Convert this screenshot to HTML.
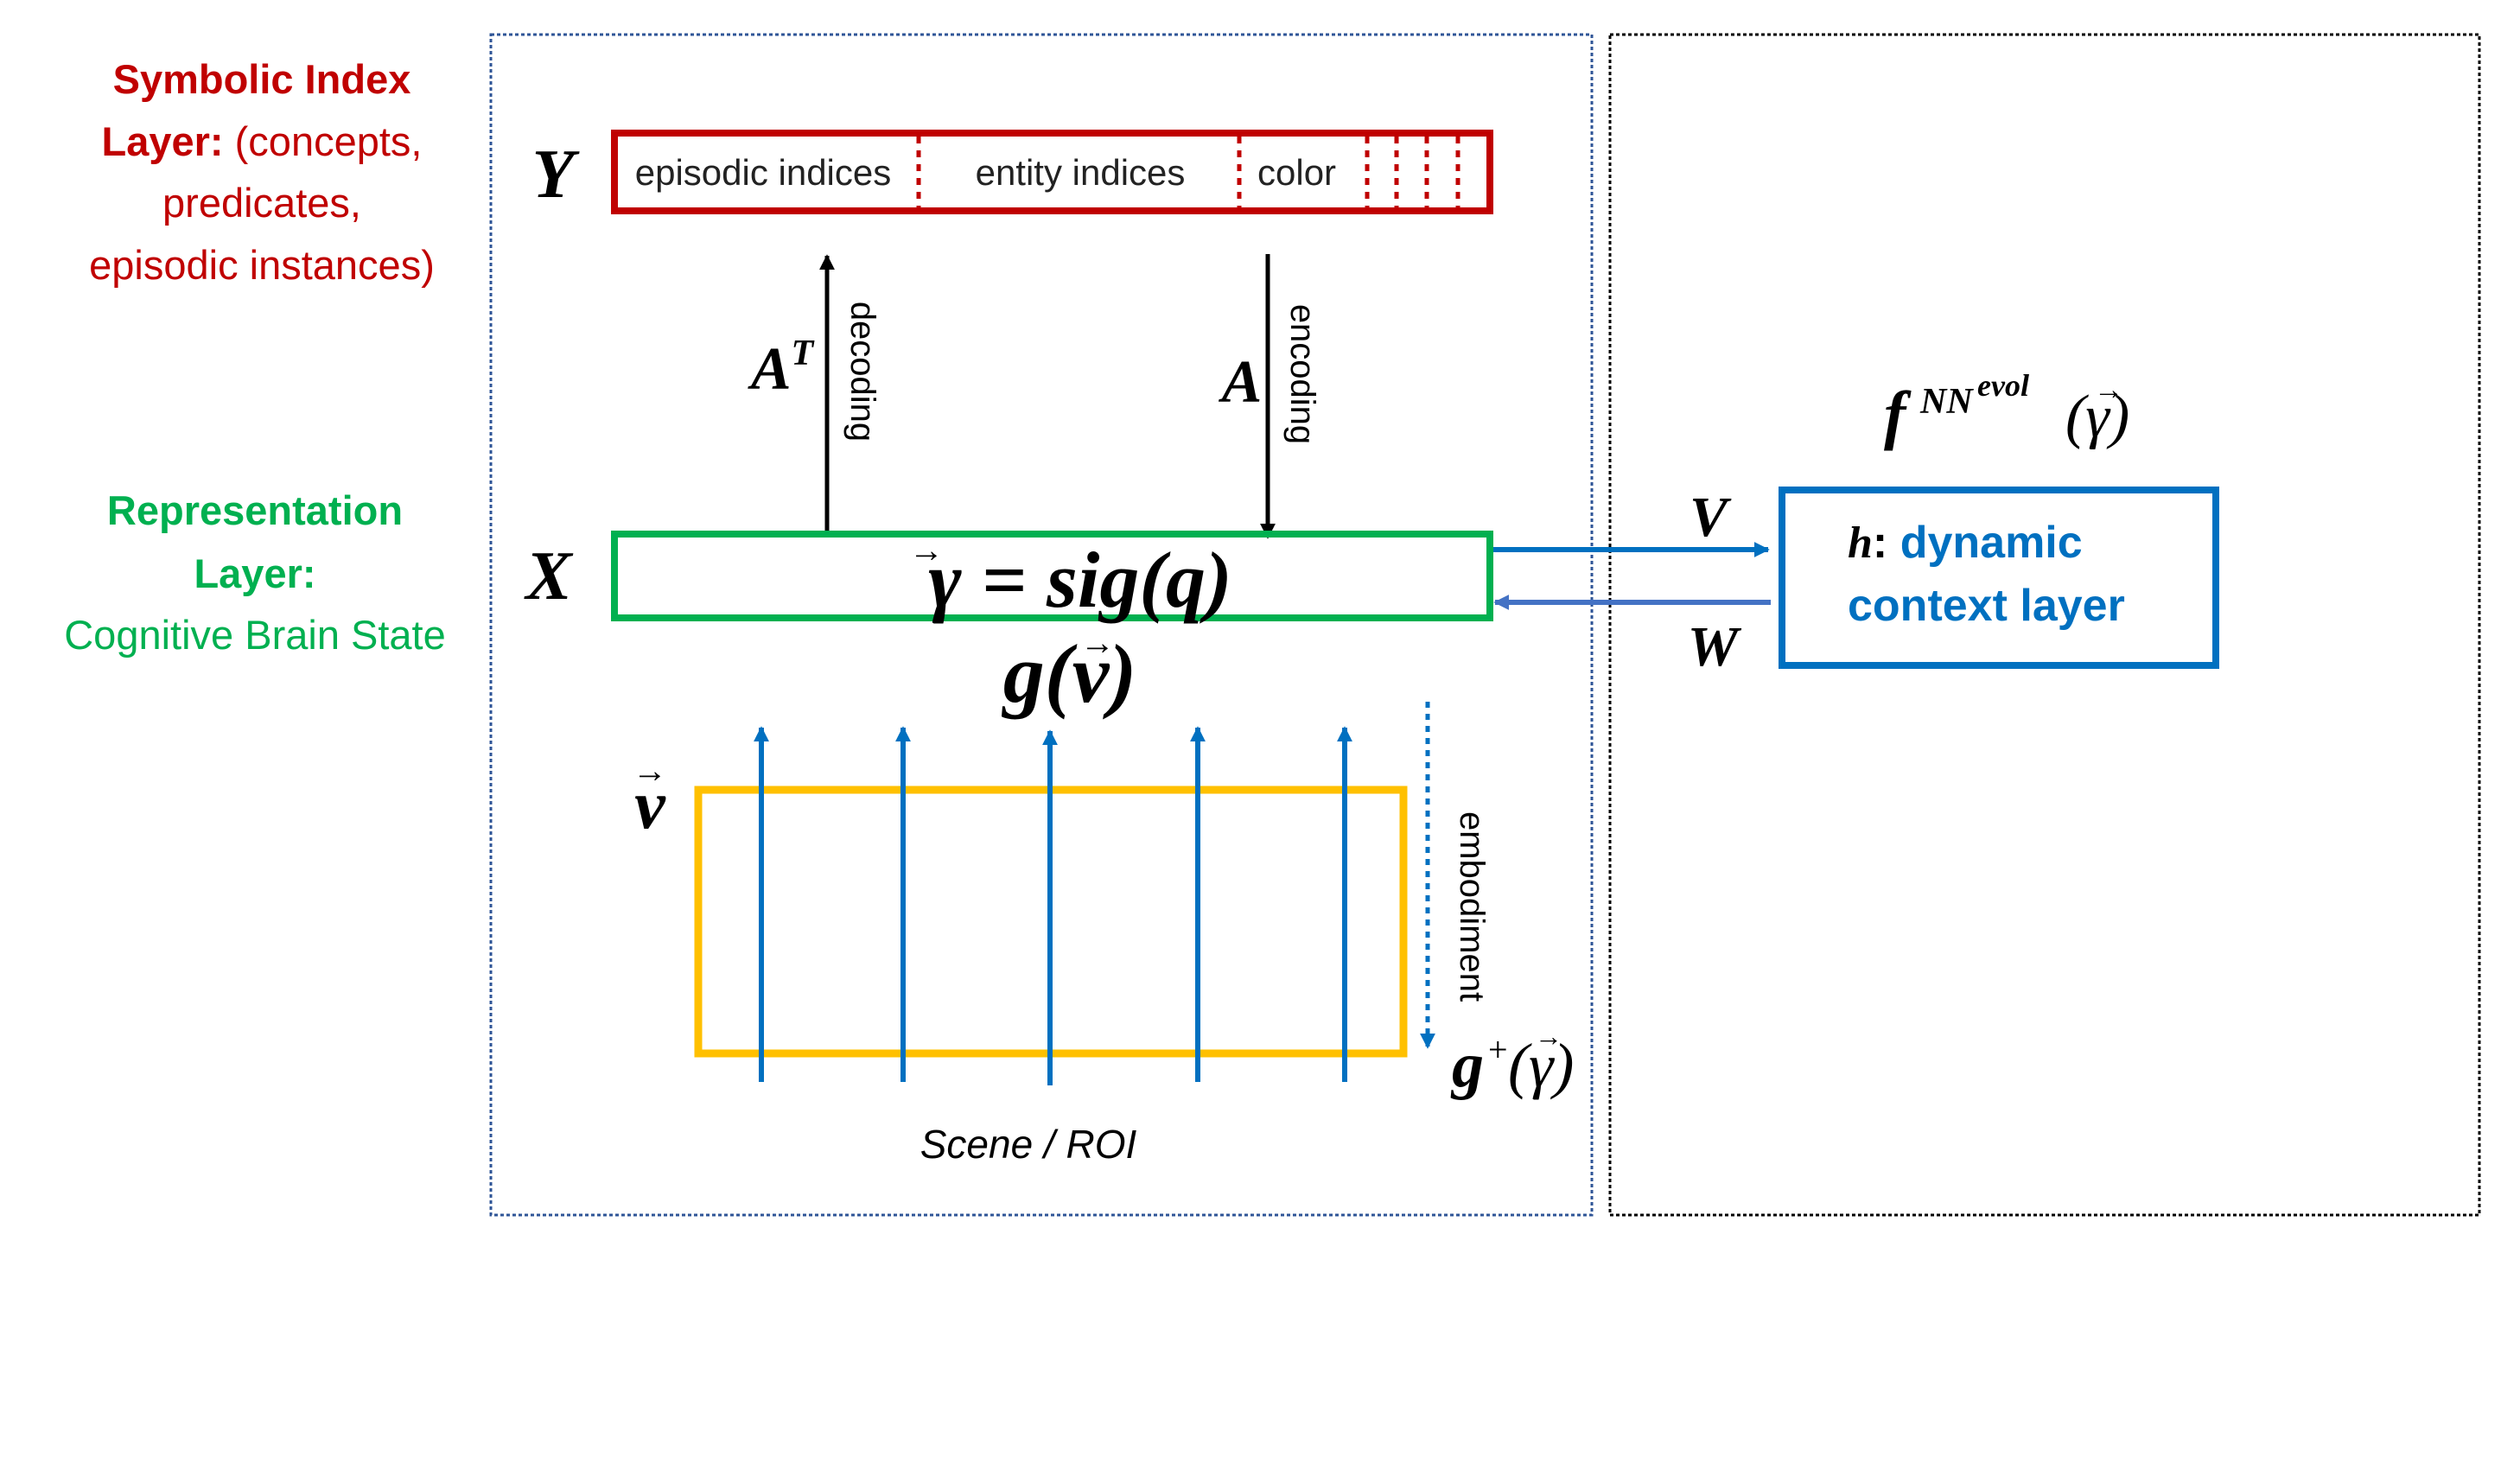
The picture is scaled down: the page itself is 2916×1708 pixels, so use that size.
<!DOCTYPE html>
<html><head><meta charset="utf-8"><style>
html,body{margin:0;padding:0;background:#fff}
svg{display:block}
.s{font-family:"Liberation Sans",sans-serif}
.m{font-family:"Liberation Serif",serif;font-style:italic;font-weight:bold}
</style></head><body>
<svg width="2916" height="1708" viewBox="0 0 2916 1708" xmlns="http://www.w3.org/2000/svg">
<defs>
<marker id="ak" viewBox="0 0 10 10" refX="9" refY="5" markerWidth="18" markerHeight="20" orient="auto" markerUnits="userSpaceOnUse"><path d="M0,0L10,5L0,10z" fill="#000"/></marker>
<marker id="ab" viewBox="0 0 10 10" refX="9" refY="5" markerWidth="18" markerHeight="18" orient="auto" markerUnits="userSpaceOnUse"><path d="M0,0L10,5L0,10z" fill="#0070c0"/></marker>
<marker id="ab2" viewBox="0 0 10 10" refX="9" refY="5" markerWidth="18" markerHeight="18" orient="auto" markerUnits="userSpaceOnUse"><path d="M0,0L10,5L0,10z" fill="#4472c4"/></marker>
</defs>
<rect x="568" y="40" width="1274" height="1366" fill="none" stroke="#2f5597" stroke-width="3" stroke-dasharray="4,3"/>
<rect x="1863" y="40" width="1006" height="1366" fill="none" stroke="#000" stroke-width="3" stroke-dasharray="4,3"/>

<g class="s" font-size="47" text-anchor="middle" fill="#c00000">
<text x="303" y="108" font-weight="bold">Symbolic Index</text>
<text x="303" y="180"><tspan font-weight="bold">Layer:</tspan> (concepts,</text>
<text x="303" y="251">predicates,</text>
<text x="303" y="323">episodic instances)</text>
</g>
<g class="s" font-size="47" text-anchor="middle" fill="#00b050">
<text x="295" y="607" font-weight="bold">Representation</text>
<text x="295" y="680" font-weight="bold">Layer:</text>
<text x="295" y="751">Cognitive Brain State</text>
</g>

<text x="640" y="228" class="m" font-size="80" text-anchor="middle">Y</text>
<rect x="711" y="154" width="1013" height="90" fill="none" stroke="#c00000" stroke-width="8"/>
<g stroke="#c00000" stroke-width="5" stroke-dasharray="8,8">
<line x1="1063" y1="158" x2="1063" y2="240"/><line x1="1434" y1="158" x2="1434" y2="240"/>
<line x1="1582" y1="158" x2="1582" y2="240"/><line x1="1616" y1="158" x2="1616" y2="240"/>
<line x1="1651" y1="158" x2="1651" y2="240"/><line x1="1687" y1="158" x2="1687" y2="240"/>
</g>
<g class="s" font-size="42" fill="#222">
<text x="883" y="214" text-anchor="middle">episodic indices</text>
<text x="1250" y="214" text-anchor="middle">entity indices</text>
<text x="1455" y="214">color</text>
</g>

<line x1="957" y1="622" x2="957" y2="296" stroke="#000" stroke-width="5" marker-end="url(#ak)"/>
<line x1="1467" y1="294" x2="1467" y2="622" stroke="#000" stroke-width="5" marker-end="url(#ak)"/>
<text x="905" y="450" class="m" font-size="70" text-anchor="middle">A<tspan font-size="42" dy="-28">T</tspan></text>
<text x="1437" y="465" class="m" font-size="70" text-anchor="middle">A</text>
<text class="s" font-size="40" transform="translate(985,430) rotate(90)" text-anchor="middle">decoding</text>
<text class="s" font-size="40" transform="translate(1494,433) rotate(90)" text-anchor="middle">encoding</text>

<text x="635" y="693" class="m" font-size="80" text-anchor="middle">X</text>
<rect x="711" y="618" width="1013" height="97" fill="none" stroke="#00b050" stroke-width="8"/>
<text x="1250" y="702" class="m" font-size="92" text-anchor="middle">γ = sig(q)</text>
<text x="1072" y="650" font-size="40" font-family="Liberation Serif" text-anchor="middle">→</text>
<text x="1238" y="812" class="m" font-size="96" text-anchor="middle">g(v)</text>
<text x="1270" y="757" font-size="40" font-family="Liberation Serif" text-anchor="middle">→</text>

<line x1="1728" y1="636" x2="2046" y2="636" stroke="#0070c0" stroke-width="6" marker-end="url(#ab)"/>
<line x1="2049" y1="697" x2="1730" y2="697" stroke="#4472c4" stroke-width="6" marker-end="url(#ab2)"/>
<text x="1977" y="620" class="m" font-size="66" text-anchor="middle">V</text>
<text x="1982" y="770" class="m" font-size="66" text-anchor="middle">W</text>

<rect x="2062" y="567" width="502" height="203" fill="none" stroke="#0070c0" stroke-width="8"/>
<text x="2138" y="645" font-size="52" fill="#0070c0" class="s" font-weight="bold"><tspan class="m" fill="#000">h</tspan><tspan fill="#000">:</tspan> dynamic</text>
<text x="2138" y="718" font-size="52" fill="#0070c0" class="s" font-weight="bold">context layer</text>
<text x="2180" y="505" class="m" font-size="76">f</text>
<text x="2222" y="478" class="m" font-size="42">NN</text>
<text x="2288" y="458" class="m" font-size="36" font-weight="normal">evol</text>
<text x="2390" y="505" font-family="Liberation Serif" font-style="italic" font-size="70">(γ)</text>
<text x="2440" y="462" font-size="34" font-family="Liberation Serif" text-anchor="middle">→</text>

<text x="752" y="958" class="m" font-size="80" text-anchor="middle">v</text>
<text x="752" y="905" font-size="40" font-family="Liberation Serif" text-anchor="middle">→</text>
<rect x="808" y="914" width="816" height="305" fill="none" stroke="#ffc000" stroke-width="9"/>
<g stroke="#0070c0" stroke-width="6" marker-end="url(#ab)">
<line x1="881" y1="1252" x2="881" y2="842"/>
<line x1="1045" y1="1252" x2="1045" y2="842"/>
<line x1="1215" y1="1256" x2="1215" y2="846"/>
<line x1="1386" y1="1252" x2="1386" y2="842"/>
<line x1="1556" y1="1252" x2="1556" y2="842"/>
</g>
<line x1="1652" y1="812" x2="1652" y2="1212" stroke="#0070c0" stroke-width="5" stroke-dasharray="7,7" marker-end="url(#ab)"/>
<text class="s" font-size="40" transform="translate(1690,1049) rotate(90)" text-anchor="middle">embodiment</text>
<text x="1680" y="1257" class="m" font-size="74">g</text>
<text x="1722" y="1228" font-family="Liberation Serif" font-size="40">+</text>
<text x="1745" y="1257" font-family="Liberation Serif" font-style="italic" font-size="72">(γ)</text>
<text x="1792" y="1210" font-size="32" font-family="Liberation Serif" text-anchor="middle">→</text>
<text x="1190" y="1340" class="s" font-size="46" font-style="italic" text-anchor="middle">Scene / ROI</text>
</svg>
</body></html>
